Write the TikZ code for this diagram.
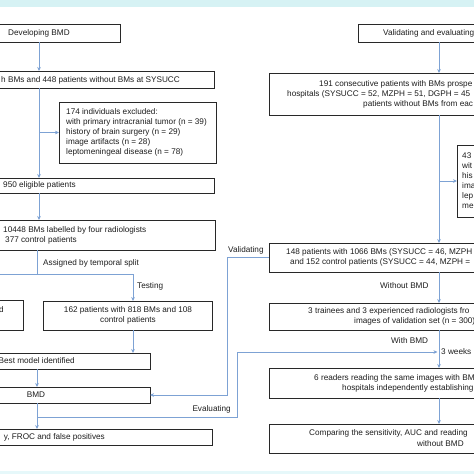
\documentclass[tikz,border=0pt]{standalone}
\usepackage{fontspec}
\setmainfont{Liberation Sans}
\usetikzlibrary{arrows.meta}
\definecolor{linec}{RGB}{125,162,212}
\definecolor{boxc}{RGB}{40,40,40}
\definecolor{textc}{RGB}{30,30,30}
\definecolor{bandtop}{RGB}{214,242,244}
\definecolor{bandbot}{RGB}{230,248,250}
\tikzset{
  box/.style={draw=boxc, line width=1pt, fill=white, rectangle, inner sep=0pt, outer sep=0pt},
  txt/.style={font=\fontsize{8.2}{10}\selectfont, text=textc, inner sep=0pt, anchor=west},
  ln/.style={draw=linec, line width=0.8pt},
  arr/.style={draw=linec, line width=0.8pt, -{Stealth[length=4pt,width=3.6pt]}}
}
\begin{document}
\begin{tikzpicture}[x=1pt,y=-1pt]
\useasboundingbox (0,0) rectangle (474,474);
\clip (0,0) rectangle (474,474);
\fill[white] (0,0) rectangle (474,474);
\fill[bandtop] (0,0) rectangle (474,7);
\fill[bandbot] (0,471) rectangle (474,474);

% trunk coordinates
\coordinate (xL) at (39,0);
\coordinate (xLb) at (37,0);
\coordinate (xT) at (133,0);
\coordinate (xV) at (227,0);
\coordinate (xE) at (237,0);
\coordinate (xR) at (439,0);
\coordinate (splitW) at (-5,274);
\coordinate (ev) at (37,417);
\coordinate (evR) at (437.5,352);

% left boxes
\node[box, minimum width=162, minimum height=18] (L1) at (39,33) {};
\node[box, minimum width=264, minimum height=17] (L2) at (82,79.5) {};
\node[box, minimum width=157, minimum height=61] (L3) at (137.5,132.5) {};
\node[box, minimum width=264, minimum height=15] (L4) at (82,185.5) {};
\node[box, minimum width=265, minimum height=30] (L5) at (82.5,235) {};
\node[box, minimum width=83, minimum height=30] (L6) at (-18.5,315) {};
\node[box, minimum width=169, minimum height=29] (L7) at (127.5,315.5) {};
\node[box, minimum width=210, minimum height=16] (L8) at (45,361) {};
\node[box, minimum width=210, minimum height=16] (L9) at (45,395) {};
\node[box, minimum width=272, minimum height=16] (L10) at (76,437) {};

% right boxes
\node[box, minimum width=242, minimum height=18] (R1) at (479,33) {};
\node[box, minimum width=351, minimum height=42] (R2) at (444.5,94) {};
\node[box, minimum width=143, minimum height=72] (R7) at (528.5,181) {};
\node[box, minimum width=351, minimum height=29] (R3) at (444.5,257.5) {};
\node[box, minimum width=351, minimum height=27] (R4) at (444.5,316.5) {};
\node[box, minimum width=351, minimum height=30] (R5) at (444.5,383) {};
\node[box, minimum width=351, minimum height=29] (R6) at (444.5,438.5) {};

% left texts
\node[txt] (t1) at (8,33) {Developing BMD};
\node[txt] (t2) at (1,80) {h BMs and 448 patients without BMs at SYSUCC};
\node[txt, align=left] (t3) at (66,132.5) {174 individuals excluded:\\with primary intracranial tumor (n = 39)\\history of brain surgery (n = 29)\\image artifacts (n = 28)\\leptomeningeal disease (n = 78)};
\node[txt] (t4) at (3,185.5) {950 eligible patients};
\node[txt] (t5a) at (3,230) {10448 BMs labelled by four radiologists};
\node[txt] (t5b) at (5,240) {377 control patients};
\node[txt, anchor=east] (t6) at (4,310) {d};
\node[txt, anchor=center, align=center] (t7) at (128,315.5) {162 patients with 818 BMs and 108\\control patients};
\node[txt, anchor=east] (t8) at (75,361) {Best model identified};
\node[txt, anchor=center] (t9) at (36,395) {BMD};
\node[txt, anchor=east] (t10) at (105,437) {y, FROC and false positives};

% right texts
\node[txt] (r1) at (383,33) {Validating and evaluating};
\node[txt] (r2a) at (319,84) {191 consecutive patients with BMs prospe};
\node[txt] (r2b) at (287,94) {hospitals (SYSUCC = 52, MZPH = 51, DGPH = 45};
\node[txt] (r2c) at (363,104) {patients without BMs from eac};
\node[txt, align=left] (r7) at (462,181) {43\\wit\\his\\ima\\lep\\me};
\node[txt] (r3a) at (286,252.5) {148 patients with 1066 BMs (SYSUCC = 46, MZPH};
\node[txt] (r3b) at (290,262.5) {and 152 control patients (SYSUCC = 44, MZPH =};
\node[txt] (r4a) at (308,311.5) {3 trainees and 3 experienced radiologists fro};
\node[txt] (r4b) at (354,321.5) {images of validation set (n = 300)};
\node[txt] (r5a) at (314,378) {6 readers reading the same images with BM};
\node[txt] (r5b) at (342,388) {hospitals independently establishing};
\node[txt] (r6a) at (309,433.5) {Comparing the sensitivity, AUC and reading};
\node[txt] (r6b) at (417,443.5) {without BMD};

% labels
\node[txt] (lab1) at (43,263) {Assigned by temporal split};
\node[txt] (lab2) at (137,286) {Testing};
\node[txt] (lab3) at (228,250) {Validating};
\node[txt, anchor=east] (lab4) at (231,409) {Evaluating};
\node[txt] (lab5) at (380,286) {Without BMD};
\node[txt] (lab6) at (391,341) {With BMD};
\node[txt] (lab7) at (441,352) {3 weeks};

% left connectors
\draw[arr] (xL |- L1.south) -- (xL |- L2.north);
\draw[arr] (xL |- L2.south) -- (xL |- L4.north);
\draw[arr] (xL |- L3.west) -- (L3.west);
\draw[arr] (xL |- L4.south) -- (xL |- L5.north);
\draw[ln] (xLb |- L5.south) -- (xLb |- splitW);
\draw[ln] (splitW) -- (xT |- splitW);
\draw[arr] (xT |- splitW) -- (xT |- L7.north);
\draw[arr] (xT |- L7.south) -- (xT |- L8.north);
\draw[arr] (xLb |- L8.south) -- (xLb |- L9.north);
\draw[arr] (xLb |- L9.south) -- (xLb |- L10.north);
\draw[arr] (ev) -- (xE |- ev) -- (xE |- evR) -- (evR);
\draw[arr] (R3.west) -- (xV |- R3.west) -- (xV |- L9.east) -- (L9.east);

% right connectors
\draw[arr] (xR |- R1.south) -- (xR |- R2.north);
\draw[arr] (xR |- R2.south) -- (xR |- R3.north);
\draw[arr] (xR |- R7.west) -- (R7.west);
\draw[arr] (xR |- R3.south) -- (xR |- R4.north);
\draw[arr] (xR |- R4.south) -- (xR |- R5.north);
\draw[arr] (xR |- R5.south) -- (xR |- R6.north);
\end{tikzpicture}
\end{document}
